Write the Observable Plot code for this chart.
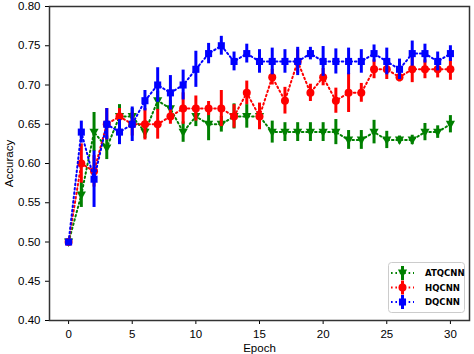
<!DOCTYPE html>
<html><head><meta charset="utf-8">
<script src="https://cdn.jsdelivr.net/npm/d3@7"></script>
<script src="https://cdn.jsdelivr.net/npm/@observablehq/plot@0.6"></script>
<style>
body{margin:0;background:#fff;}
#wrap{position:relative;width:474px;height:354px;}
#legend{position:absolute;left:388px;top:262px;}
</style></head><body><div id="wrap"></div>
<script>
const epochs = [0,1,2,3,4,5,6,7,8,9,10,11,12,13,14,15,16,17,18,19,20,21,22,23,24,25,26,27,28,29,30];
const seriesNames = ["ATQCNN","HQCNN","DQCNN"];
const seriesColors = ["green","red","blue"];
const atqcnn = [0.50,0.56,0.64,0.62,0.66,0.66,0.64,0.68,0.67,0.64,0.66,0.65,0.65,0.66,0.66,0.66,0.64,0.64,0.64,0.64,0.64,0.64,0.63,0.63,0.64,0.63,0.63,0.63,0.64,0.64,0.65];
const atqcnnErr = [0,0.016,0.025,0.015,0.015,0.01,0.008,0.012,0.01,0.013,0.013,0.021,0.01,0.016,0.015,0.01,0.014,0.012,0.012,0.012,0.012,0.016,0.012,0.012,0.015,0.011,0.005,0.006,0.011,0.008,0.011];
const hqcnn = [0.50,0.60,0.59,0.65,0.66,0.65,0.65,0.65,0.66,0.67,0.67,0.67,0.67,0.66,0.69,0.66,0.71,0.68,0.73,0.69,0.71,0.68,0.69,0.69,0.72,0.72,0.71,0.72,0.72,0.72,0.72];
const hqcnnErr = [0,0.025,0.02,0.02,0.01,0.015,0.02,0.019,0.01,0.02,0.016,0.009,0.023,0.015,0.015,0.017,0.01,0.017,0.015,0.011,0.011,0.016,0.025,0.012,0.012,0.013,0.006,0.017,0.012,0.011,0.014];
const dqcnn = [0.50,0.64,0.58,0.65,0.64,0.65,0.68,0.70,0.69,0.70,0.72,0.74,0.75,0.73,0.74,0.73,0.73,0.73,0.73,0.74,0.73,0.73,0.73,0.73,0.74,0.73,0.72,0.74,0.74,0.73,0.74];
const dqcnnErr = [0,0.014,0.036,0.02,0.016,0.022,0.013,0.022,0.022,0.019,0.023,0.013,0.012,0.012,0.012,0.015,0.017,0.015,0.018,0.008,0.019,0.016,0.017,0.015,0.011,0.017,0.013,0.016,0.012,0.012,0.01];
const xTicks = [0,5,10,15,20,25,30];
const yTicks = [0.40,0.45,0.50,0.55,0.60,0.65,0.70,0.75,0.80];

const allVals = [atqcnn, hqcnn, dqcnn];
const allErrs = [atqcnnErr, hqcnnErr, dqcnnErr];

const triDown = {draw(ctx, size){
  const r = Math.sqrt(size/Math.PI);
  const w = r*1.15, t = r*0.85, b = r*1.25;
  ctx.moveTo(-w, -t); ctx.lineTo(w, -t); ctx.lineTo(0, b); ctx.closePath();
}};
const symbols = [triDown, d3.symbolCircle, d3.symbolSquare];

const marks = [];
seriesNames.forEach((name, i) => {
  const data = epochs.map((e, j) => ({series: name, epoch: e, acc: allVals[i][j], err: allErrs[i][j]}));
  const c = seriesColors[i];
  marks.push(
    Plot.line(data, {x: "epoch", y: "acc", stroke: c, strokeWidth: 2, strokeDasharray: "1.6,2.8"}),
    Plot.ruleX(data, {x: "epoch", y1: d => d.acc - d.err, y2: d => d.acc + d.err, stroke: c, strokeWidth: 3}),
    Plot.dot(data, {x: "epoch", y: "acc", fill: c, stroke: "none", r: 4, symbol: symbols[i]})
  );
});
marks.push(Plot.frame({stroke: "#333", strokeWidth: 1.5}));

const chart = Plot.plot({
  width: 474, height: 354,
  marginLeft: 49, marginRight: 5, marginTop: 6, marginBottom: 34,
  style: {fontFamily: "'Liberation Sans', Arial, sans-serif", fontSize: "11.5px", color: "#000", background: "#fff"},
  x: {domain: [-1.5, 31.5], ticks: xTicks, tickSize: 4, label: "Epoch", labelAnchor: "center", labelOffset: 31, labelArrow: "none"},
  y: {domain: [0.4, 0.8], ticks: yTicks, tickSize: 4, tickFormat: d3.format(".2f"), label: "Accuracy", labelAnchor: "center", labelOffset: 45, labelArrow: "none"},
  marks
});
const wrap = document.getElementById("wrap");
wrap.appendChild(chart);

// legend
const lg = d3.select(wrap).append("svg").attr("id", "legend").attr("width", 77).attr("height", 51);
lg.append("rect").attr("x", 0.5).attr("y", 0.5).attr("width", 76).attr("height", 50).attr("rx", 3)
  .attr("fill", "#fff").attr("stroke", "#ccc");
const rowY = [11, 25.5, 40];
seriesNames.forEach((name, i) => {
  const g = lg.append("g").attr("transform", `translate(0,${rowY[i]})`);
  const c = seriesColors[i];
  g.append("line").attr("x1", 3).attr("x2", 26).attr("y1", 0).attr("y2", 0)
    .attr("stroke", c).attr("stroke-width", 2).attr("stroke-dasharray", "1.6,2.8");
  g.append("line").attr("x1", 14.5).attr("x2", 14.5).attr("y1", -7).attr("y2", 7)
    .attr("stroke", c).attr("stroke-width", 3);
  g.append("path").attr("transform", "translate(14.5,0)")
    .attr("d", d3.symbol(symbols[i], Math.PI*16)()).attr("fill", c);
  g.append("text").attr("x", 37).attr("y", 0).attr("dy", "0.35em")
    .attr("font-family", "'DejaVu Sans Condensed', 'DejaVu Sans', sans-serif").attr("font-weight", "bold")
    .attr("font-size", "9.5px").attr("fill", "#000").text(name);
});
</script></body></html>
